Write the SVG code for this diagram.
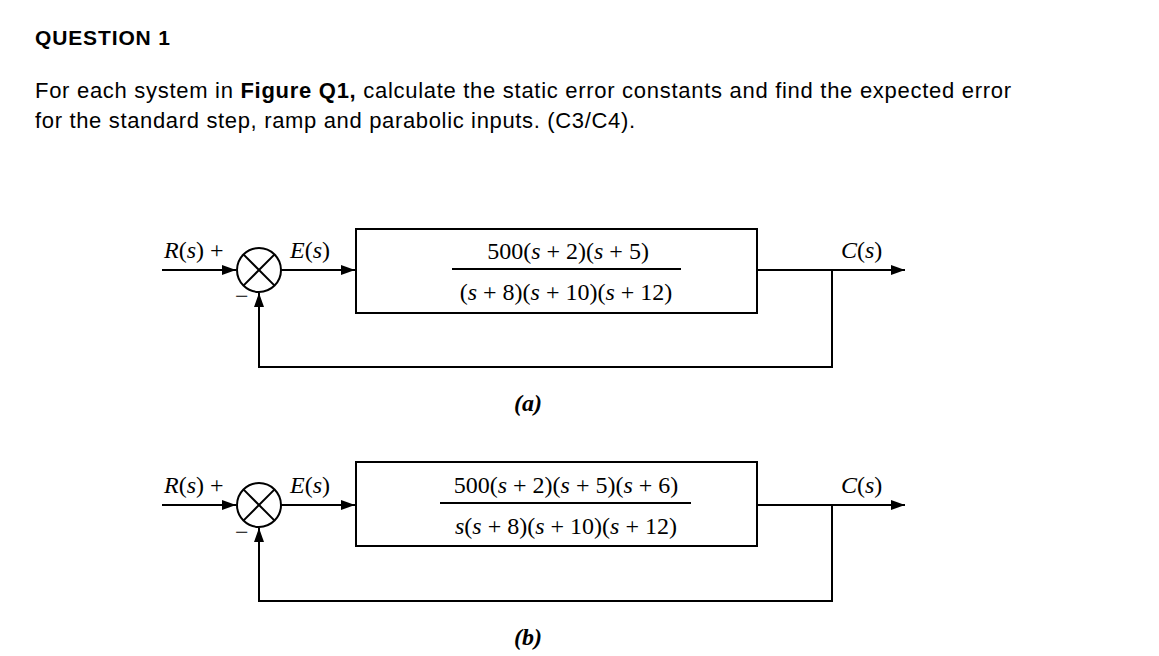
<svg xmlns="http://www.w3.org/2000/svg" width="1159" height="656" viewBox="0 0 1159 656">
<style>
.h{font-family:"Liberation Sans",Arial,sans-serif;fill:#000}
.m{font-family:"Liberation Serif","Times New Roman",serif;font-size:24px;fill:#000}
.ln{stroke:#000;stroke-width:2;fill:none}
.bx{stroke:#000;stroke-width:2;fill:#fff}
</style>
<defs><marker id="ar" markerWidth="14" markerHeight="10" refX="14" refY="5" orient="auto" markerUnits="userSpaceOnUse"><path d="M0,0L14,5L0,10Z" fill="#000"/></marker></defs>
<rect width="1159" height="656" fill="#fff"/>
<text class="h" x="35" y="45" font-size="21" font-weight="bold" textLength="135">QUESTION 1</text>
<text class="h" x="35" y="98" font-size="22" textLength="976">For each system in <tspan font-weight="bold">Figure Q1,</tspan> calculate the static error constants and find the expected error</text>
<text class="h" x="35" y="128" font-size="22" textLength="600">for the standard step, ramp and parabolic inputs. (C3/C4).</text>
<g id="connectors">
<path class="ln" d="M162,270H236" marker-end="url(#ar)"/>
<path class="ln" d="M281,270H355" marker-end="url(#ar)"/>
<path class="ln" d="M757,270H905" marker-end="url(#ar)"/>
<path class="ln" d="M832,270V367H259V293" marker-end="url(#ar)"/>
<path class="ln" d="M162,505H236" marker-end="url(#ar)"/>
<path class="ln" d="M281,505H355" marker-end="url(#ar)"/>
<path class="ln" d="M757,505H905" marker-end="url(#ar)"/>
<path class="ln" d="M832,505V601H259V528" marker-end="url(#ar)"/>
</g>
<g id="sumA"><circle class="bx" cx="259" cy="270" r="22"/><path class="ln" d="M243.4,254.4L274.6,285.6M274.6,254.4L243.4,285.6"/></g>
<g id="sumB"><circle class="bx" cx="259" cy="505" r="22"/><path class="ln" d="M243.4,489.4L274.6,520.6M274.6,489.4L243.4,520.6"/></g>
<g id="blockA"><rect class="bx" x="356" y="229" width="401" height="84"/>
<text class="m" x="568" y="259" text-anchor="middle">500(<tspan font-style="italic">s</tspan> + 2)(<tspan font-style="italic">s</tspan> + 5)</text>
<path class="ln" d="M452,269H681" stroke-width="1.5"/>
<text class="m" x="566" y="300" text-anchor="middle">(<tspan font-style="italic">s</tspan> + 8)(<tspan font-style="italic">s</tspan> + 10)(<tspan font-style="italic">s</tspan> + 12)</text></g>
<g id="blockB"><rect class="bx" x="356" y="462" width="401" height="84"/>
<text class="m" x="566" y="493" text-anchor="middle">500(<tspan font-style="italic">s</tspan> + 2)(<tspan font-style="italic">s</tspan> + 5)(<tspan font-style="italic">s</tspan> + 6)</text>
<path class="ln" d="M440,503H691" stroke-width="1.5"/>
<text class="m" x="566" y="534" text-anchor="middle"><tspan font-style="italic">s</tspan>(<tspan font-style="italic">s</tspan> + 8)(<tspan font-style="italic">s</tspan> + 10)(<tspan font-style="italic">s</tspan> + 12)</text></g>
<g id="labels">
<text class="m" x="164" y="258"><tspan font-style="italic">R</tspan>(<tspan font-style="italic">s</tspan>) +</text>
<text class="m" x="290" y="258"><tspan font-style="italic">E</tspan>(<tspan font-style="italic">s</tspan>)</text>
<text class="m" x="235" y="304">−</text>
<text class="m" x="841" y="258"><tspan font-style="italic">C</tspan>(<tspan font-style="italic">s</tspan>)</text>
<text class="m" x="528" y="411" text-anchor="middle" font-weight="bold" font-style="italic">(a)</text>
<text class="m" x="164" y="493"><tspan font-style="italic">R</tspan>(<tspan font-style="italic">s</tspan>) +</text>
<text class="m" x="290" y="493"><tspan font-style="italic">E</tspan>(<tspan font-style="italic">s</tspan>)</text>
<text class="m" x="235" y="540">−</text>
<text class="m" x="841" y="493"><tspan font-style="italic">C</tspan>(<tspan font-style="italic">s</tspan>)</text>
<text class="m" x="528" y="645" text-anchor="middle" font-weight="bold" font-style="italic">(b)</text>
</g>
</svg>
